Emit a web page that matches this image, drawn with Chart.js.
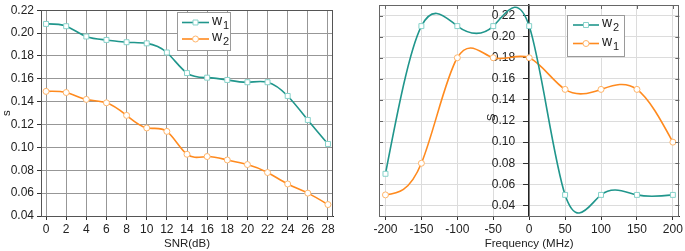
<!DOCTYPE html>
<html>
<head>
<meta charset="utf-8">
<script src="https://cdn.jsdelivr.net/npm/chart.js@4/dist/chart.umd.min.js"></script>
<style>
  body { margin: 0; background: #fff; }
  canvas { position: absolute; top: 0; }
  #left { left: 0; }
  #right { left: 340px; }
</style>
</head>
<body>
<canvas id="left" width="340" height="251"></canvas>
<canvas id="right" width="345" height="251"></canvas>
<script>
// datos del panel izquierdo (SNR)
const snr = [0, 2, 4, 6, 8, 10, 12, 14, 16, 18, 20, 22, 24, 26, 28];
const w1Snr = [0.208, 0.206, 0.197, 0.194, 0.192, 0.191, 0.183, 0.165, 0.161, 0.159, 0.157, 0.157, 0.145, 0.124, 0.103];
const w2Snr = [0.149, 0.148, 0.142, 0.139, 0.128, 0.117, 0.114, 0.094, 0.092, 0.089, 0.085, 0.078, 0.068, 0.060, 0.050];

// datos del panel derecho (frecuencia)
const freq = [-200, -150, -100, -50, 0, 50, 100, 150, 200];
const w2Freq = [0.07, 0.21, 0.21, 0.21, 0.21, 0.05, 0.05, 0.05, 0.05];
const w1Freq = [0.05, 0.08, 0.18, 0.18, 0.18, 0.15, 0.15, 0.15, 0.10];

// etiquetas de los ejes
const snrTicks = [0, 2, 4, 6, 8, 10, 12, 14, 16, 18, 20, 22, 24, 26, 28];
const freqTicks = [-200, -150, -100, -50, 0, 50, 100, 150, 200];
const sTicks = [0.04, 0.06, 0.08, 0.10, 0.12, 0.14, 0.16, 0.18, 0.20, 0.22];

const TEAL = '#20968c';
const ORANGE = '#ff8a1e';
const FONT = "'Liberation Sans', Arial, sans-serif";

const pts = (xs, ys) => xs.map((x, i) => ({ x: x, y: ys[i] }));
const setTicks = arr => scale => { scale.ticks = arr.map(v => ({ value: v })); };

const tealSet = (label, data) => ({
  label, data,
  borderColor: TEAL, borderWidth: 1.6,
  pointStyle: 'rect', pointRadius: 3.5,
  pointBackgroundColor: '#fff', pointBorderColor: '#86d2ca', pointBorderWidth: 1,
  tension: 0.4
});
const orangeSet = (label, data) => ({
  label, data,
  borderColor: ORANGE, borderWidth: 1.6,
  pointStyle: 'circle', pointRadius: 3,
  pointBackgroundColor: '#fff', pointBorderColor: '#ffb56a', pointBorderWidth: 1,
  tension: 0.4
});

// curva spline natural (como Origin) en vez de la bezier de Chart.js
const splinePlugin = {
  id: 'naturalSpline',
  beforeDatasetDraw(chart, args) {
    const meta = args.meta;
    const line = meta.dataset;
    const p = meta.data;
    const n = p.length;
    line.updateControlPoints(chart.chartArea, 'x');
    const x = p.map(e => e.x), y = p.map(e => e.y);
    const M = new Array(n).fill(0);
    const a = [], b = [], c = [], d = [];
    for (let i = 1; i < n - 1; i++) {
      const h0 = x[i] - x[i - 1], h1 = x[i + 1] - x[i];
      a[i] = h0; b[i] = 2 * (h0 + h1); c[i] = h1;
      d[i] = 6 * ((y[i + 1] - y[i]) / h1 - (y[i] - y[i - 1]) / h0);
    }
    for (let i = 2; i < n - 1; i++) {
      const w = a[i] / b[i - 1];
      b[i] -= w * c[i - 1];
      d[i] -= w * d[i - 1];
    }
    for (let i = n - 2; i >= 1; i--) M[i] = (d[i] - c[i] * M[i + 1]) / b[i];
    for (let i = 0; i < n - 1; i++) {
      const h = x[i + 1] - x[i];
      const s = (y[i + 1] - y[i]) / h;
      const m0 = s - h * (2 * M[i] + M[i + 1]) / 6;
      const m1 = s + h * (M[i] + 2 * M[i + 1]) / 6;
      p[i].cp2x = x[i] + h / 3; p[i].cp2y = y[i] + m0 * h / 3;
      p[i + 1].cp1x = x[i + 1] - h / 3; p[i + 1].cp1y = y[i + 1] - m1 * h / 3;
    }
    line._path = undefined;
  }
};

// marco alrededor del area de dibujo, con marquitas hacia adentro
const framePlugin = {
  id: 'frame',
  afterDraw(chart, args, opts) {
    const { ctx, chartArea: a } = chart;
    ctx.save();
    ctx.strokeStyle = opts.color;
    ctx.lineWidth = 1;
    ctx.strokeRect(Math.round(a.left) + 0.5, Math.round(a.top) + 0.5,
      Math.round(a.right - a.left) - 1, Math.round(a.bottom - a.top));
    if (opts.innerTicks) {
      const xs = chart.scales.x, ys = chart.scales.y;
      ctx.beginPath();
      xs.ticks.forEach(t => {
        const px = Math.round(xs.getPixelForValue(t.value)) + 0.5;
        ctx.moveTo(px, a.top); ctx.lineTo(px, a.top + 4);
      });
      ys.ticks.forEach(t => {
        const py = Math.round(ys.getPixelForValue(t.value)) + 0.5;
        ctx.moveTo(a.left, py); ctx.lineTo(a.left + 4, py);
        ctx.moveTo(a.right, py); ctx.lineTo(a.right - 4, py);
      });
      ctx.stroke();
    }
    ctx.restore();
  }
};

// etiquetas del eje y centrado (Chart.js no les pone separacion)
const centerYLabels = {
  id: 'centerYLabels',
  beforeDatasetsDraw(chart, args, opts) {
    const { ctx, chartArea: a } = chart;
    const ys = chart.scales.y;
    const ax = chart.scales.x.getPixelForValue(0);
    ctx.save();
    ctx.fillStyle = '#222';
    ctx.font = '12px ' + FONT;
    ctx.textAlign = 'right';
    ctx.textBaseline = 'middle';
    ys.ticks.forEach(t => ctx.fillText(t.value.toFixed(2), ax - opts.gap, ys.getPixelForValue(t.value)));
    ctx.translate(ax - opts.titleGap, (a.top + a.bottom) / 2 + 7);
    ctx.rotate(-Math.PI / 2);
    ctx.textAlign = 'center';
    ctx.font = '11.5px ' + FONT;
    ctx.fillText(opts.title, 0, 0);
    ctx.restore();
  }
};

// leyenda dentro del grafico con subindices
const boxLegend = {
  id: 'boxLegend',
  afterDraw(chart, args, opts) {
    const ctx = chart.ctx;
    const [bx, by, bw, bh] = opts.box;
    ctx.save();
    ctx.fillStyle = '#fff';
    ctx.fillRect(bx, by, bw, bh);
    ctx.strokeStyle = '#9a9a9a';
    ctx.lineWidth = 1;
    ctx.strokeRect(bx + 0.5, by + 0.5, bw, bh);
    chart.data.datasets.forEach((ds, i) => {
      const y = by + opts.rowY[i];
      const x0 = bx + opts.lineX[0], x1 = bx + opts.lineX[1];
      ctx.strokeStyle = ds.borderColor;
      ctx.lineWidth = 1.6;
      ctx.beginPath(); ctx.moveTo(x0, y); ctx.lineTo(x1, y); ctx.stroke();
      ctx.fillStyle = ds.pointBackgroundColor;
      ctx.strokeStyle = ds.pointBorderColor;
      ctx.lineWidth = 1;
      Chart.helpers.drawPoint(ctx, { pointStyle: ds.pointStyle, radius: ds.pointRadius, rotation: 0, borderWidth: 1 }, (x0 + x1) / 2, y);
      ctx.fillStyle = '#222';
      ctx.textBaseline = 'alphabetic';
      ctx.font = '14px ' + FONT;
      const tx = x1 + 3;
      ctx.fillText(ds.label[0], tx, y + 2);
      const wW = ctx.measureText(ds.label[0]).width;
      ctx.font = '11px ' + FONT;
      ctx.fillText(ds.label.slice(1), tx + wW + 1, y + 6);
    });
    ctx.restore();
  }
};

const tickFont = { family: FONT, size: 12 };
const titleFont = { family: FONT, size: 11.5 };

new Chart(document.getElementById('left'), {
  type: 'line',
  data: {
    datasets: [
      tealSet('w1', pts(snr, w1Snr)),
      orangeSet('w2', pts(snr, w2Snr))
    ]
  },
  options: {
    responsive: false, animation: false, devicePixelRatio: 1,
    layout: { padding: { top: 5, right: 7, left: 0, bottom: 0 } },
    plugins: {
      legend: { display: false }, tooltip: { enabled: false },
      frame: { color: '#555', innerTicks: false },
      boxLegend: { box: [177, 12, 53, 38], rowY: [10.5, 27], lineX: [5, 32] }
    },
    scales: {
      x: {
        type: 'linear', min: -0.5, max: 28.5,
        afterBuildTicks: setTicks(snrTicks),
        afterFit: s => { s.height = 35; },
        ticks: { color: '#222', font: tickFont, padding: 2, maxRotation: 0, autoSkip: false, callback: v => String(v) },
        grid: { color: '#979797', tickLength: 4, tickColor: '#333' },
        border: { color: '#222' },
        title: { display: true, text: 'SNR(dB)', color: '#222', font: titleFont, padding: { top: 0, bottom: 0 } }
      },
      y: {
        min: 0.04, max: 0.22,
        afterBuildTicks: setTicks(sTicks),
        afterFit: s => { s.width = 41; },
        ticks: { color: '#222', font: tickFont, padding: 3, callback: v => v.toFixed(2) },
        grid: { color: '#979797', tickLength: 4, tickColor: '#333' },
        border: { color: '#222' },
        title: { display: true, text: 's', color: '#222', font: titleFont, padding: { top: 0, bottom: 0 } }
      }
    }
  },
  plugins: [splinePlugin, framePlugin, boxLegend]
});

new Chart(document.getElementById('right'), {
  type: 'line',
  data: {
    datasets: [
      tealSet('w2', pts(freq, w2Freq)),
      orangeSet('w1', pts(freq, w1Freq))
    ]
  },
  options: {
    responsive: false, animation: false, devicePixelRatio: 1,
    layout: { padding: { top: 2, right: 2, left: 39, bottom: 0 } },
    plugins: {
      legend: { display: false }, tooltip: { enabled: false },
      frame: { color: '#666', innerTicks: true },
      centerYLabels: { gap: 14, titleGap: 37, title: 'S' },
      boxLegend: { box: [227, 15, 57, 41], rowY: [10, 28.5], lineX: [6, 32] }
    },
    scales: {
      x: {
        type: 'linear', min: -209, max: 209,
        afterBuildTicks: setTicks(freqTicks),
        afterFit: s => { s.height = 35; },
        ticks: { color: '#222', font: tickFont, padding: 2, maxRotation: 0, autoSkip: false, callback: v => String(v) },
        grid: { color: '#dcdcdc', tickLength: 4, tickColor: '#333' },
        border: { color: '#222' },
        title: { display: true, text: 'Frequency (MHz)', color: '#222', font: titleFont, padding: { top: 0, bottom: 0 } }
      },
      y: {
        position: { x: 0 },
        min: 0.03, max: 0.23,
        afterBuildTicks: setTicks(sTicks),
        ticks: { display: false },
        grid: { color: '#dcdcdc', tickLength: 5, tickColor: '#333' },
        border: { color: '#222', width: 1.5 }
      }
    }
  },
  plugins: [splinePlugin, framePlugin, centerYLabels, boxLegend]
});
</script>
</body>
</html>
